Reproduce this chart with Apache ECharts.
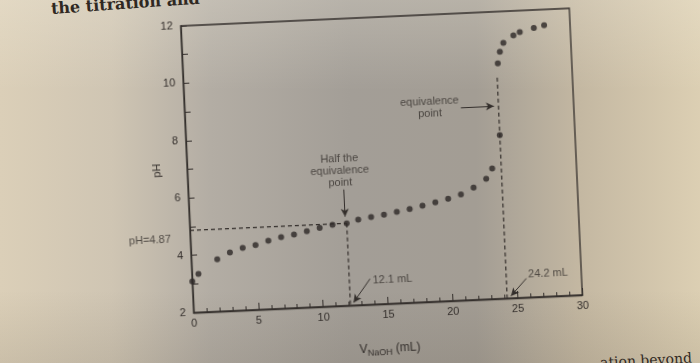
<!DOCTYPE html>
<html><head><meta charset="utf-8">
<script src="https://cdn.jsdelivr.net/npm/echarts@6/dist/echarts.min.js"></script>
<style>
html,body{margin:0;padding:0;width:700px;height:363px;overflow:hidden;}
#bg{position:absolute;left:0;top:0;width:700px;height:363px;background:
 linear-gradient(180deg, rgba(255,250,235,0.22) 0%, rgba(255,250,235,0) 25%, rgba(0,0,0,0) 80%, rgba(60,50,35,0.10) 100%),
 linear-gradient(90deg,#dbcfb8 0%,#cfc5b3 16%,#b3ada4 30%,#a39e97 50%,#a39d94 68%,#c4b8a2 83%,#dccfb3 100%);}
#chart{position:absolute;left:0;top:0;width:700px;height:363px;transform:rotate(-2.6deg);transform-origin:381.6px 160.3px;}
.page{position:absolute;font-family:'DejaVu Serif',serif;color:#2f2822;white-space:nowrap;}
</style></head><body>
<div id="bg"></div>
<div class="page" style="left:51px;top:-1px;font-size:16px;font-weight:bold;transform:rotate(-4deg);transform-origin:0 50%;">the titration and</div>
<div class="page" style="left:600px;top:352px;font-size:14px;transform:rotate(-3deg);">ation beyond</div>
<div id="chart"></div>
<script>
// ---- data ----
const volume = [0, 0.5, 2, 3, 4, 5, 6, 7, 8, 9, 10, 11, 12.1, 13, 14, 15, 16, 17, 18, 19, 20, 21, 22, 23, 23.5, 24.2,
                24.3, 24.5, 24.8, 25.6, 26.1, 27.2, 28.0];
const pHValues = [3.09, 3.34, 3.82, 4.04, 4.18, 4.26, 4.39, 4.49, 4.56, 4.66, 4.75, 4.84, 4.87, 4.98, 5.05, 5.11, 5.19, 5.27, 5.36, 5.46, 5.56, 5.69, 5.91, 6.2, 6.55, 7.7,
                  10.2, 10.6, 10.9, 11.15, 11.25, 11.37, 11.45];
const halfEqVol = 12.1;
const halfEqPH = 4.87;
const eqVol = 24.2;
const eqDashTop = 9.7;
const xRange = [0, 30];
const yRange = [2, 12];

const ink = '#332e2b';
const font = "'Liberation Sans', Arial, sans-serif";
const dash = [4, 3];

function arrow(from, to) {
  return [
    {coord: from, symbol: 'none', symbolSize: 0},
    {coord: to, symbol: 'arrow', symbolSize: [6, 8]}
  ];
}

const chart = echarts.init(document.getElementById('chart'), null, {renderer: 'canvas'});
const option = {
  animation: false,
  backgroundColor: 'transparent',
  grid: {left: 187, top: 17, width: 389, height: 287, show: true, borderColor: ink, borderWidth: 1.3, backgroundColor: 'transparent'},
  xAxis: {
    type: 'value', min: xRange[0], max: xRange[1], interval: 5,
    axisLine: {show: true, lineStyle: {color: ink, width: 1.3}},
    axisTick: {show: true, inside: true, length: 7, lineStyle: {color: ink, width: 1}},
    minorTick: {show: true, splitNumber: 5, length: 4, lineStyle: {color: ink, width: 1}},
    axisLabel: {color: ink, fontSize: 11, fontFamily: font, margin: 5, showMinLabel: true, showMaxLabel: true},
    splitLine: {show: false}, minorSplitLine: {show: false},
    name: '{v|V}{s|NaOH}{v| (mL)}', nameLocation: 'middle', nameGap: 39, nameMoveOverlap: false,
    nameTextStyle: {rich: {
      v: {fontSize: 12, fontFamily: font, color: ink, lineHeight: 14, verticalAlign: 'top'},
      s: {fontSize: 9, fontFamily: font, color: ink, lineHeight: 10, padding: [5, 0, 0, 0], verticalAlign: 'bottom'}
    }}
  },
  yAxis: {
    type: 'value', min: yRange[0], max: yRange[1], interval: 2,
    axisLine: {show: true, lineStyle: {color: ink, width: 1.3}},
    axisTick: {show: true, inside: true, length: 6, lineStyle: {color: ink, width: 1}},
    minorTick: {show: true, splitNumber: 2, length: 6, lineStyle: {color: ink, width: 1}},
    axisLabel: {color: ink, fontSize: 11, fontFamily: font, margin: 8, showMinLabel: true, showMaxLabel: true},
    splitLine: {show: false}, minorSplitLine: {show: false},
    name: 'pH', nameLocation: 'middle', nameGap: 25, nameMoveOverlap: false,
    nameTextStyle: {color: ink, fontSize: 11, fontFamily: font}
  },
  series: [
    {
      name: 'pH', type: 'scatter', z: 5,
      data: volume.map((v, i) => [v, pHValues[i]]),
      symbol: 'circle', symbolSize: 6,
      itemStyle: {color: '#2c2725'}
    },
    {
      name: 'halfH', type: 'line', symbol: 'none', silent: true,
      data: [[xRange[0], halfEqPH], [halfEqVol, halfEqPH]],
      lineStyle: {color: ink, width: 1.2, type: dash}
    },
    {
      name: 'halfV', type: 'line', symbol: 'none', silent: true,
      data: [[halfEqVol, halfEqPH], [halfEqVol, yRange[0]]],
      lineStyle: {color: ink, width: 1.2, type: dash}
    },
    {
      name: 'eqV', type: 'line', symbol: 'none', silent: true,
      data: [[eqVol, yRange[0]], [eqVol, eqDashTop]],
      lineStyle: {color: ink, width: 1.2, type: dash}
    },
    {
      name: 'arrows', type: 'line', silent: true, symbol: 'none', data: [],
      itemStyle: {color: ink}, lineStyle: {color: ink},
      markLine: {
        silent: true, animation: false,
        label: {show: false},
        itemStyle: {color: ink},
        lineStyle: {type: 'solid', color: ink, width: 1},
        data: [
          arrow([12.0, 6.05], [12.0, 5.1]),
          arrow([21.3, 8.72], [23.85, 8.72]),
          arrow([13.7, 2.9], [12.35, 2.1]),
          arrow([25.75, 2.67], [24.5, 2.08])
        ]
      }
    },
    {
      name: 'notes', type: 'scatter', silent: true, z: 6,
      symbol: 'circle', symbolSize: 1, itemStyle: {color: 'rgba(0,0,0,0)'},
      label: {show: true, position: 'inside', color: ink, fontSize: 11, fontFamily: font, lineHeight: 12, align: 'center', verticalAlign: 'middle'},
      data: [
        {value: [11.75, 6.7], label: {formatter: 'Half the\nequivalence\npoint'}},
        {value: [18.9, 8.75], label: {formatter: 'equivalence\npoint'}},
        {value: [13.9, 2.84], label: {formatter: halfEqVol + ' mL', align: 'left'}},
        {value: [25.9, 2.8], label: {formatter: eqVol + ' mL', align: 'left'}},
        {value: [xRange[0], halfEqPH], label: {formatter: 'pH=' + halfEqPH, position: 'left', align: 'right', distance: 19, offset: [0, 8]}}
      ]
    }
  ]
};
chart.setOption(option);
</script>
</body></html>
